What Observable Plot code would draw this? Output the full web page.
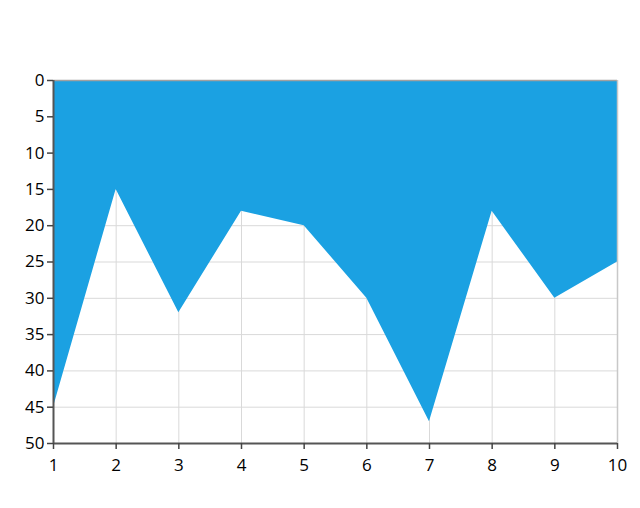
<!DOCTYPE html>
<html><head><meta charset="utf-8">
<script src="https://cdn.jsdelivr.net/npm/d3@7"></script>
<script src="https://cdn.jsdelivr.net/npm/@observablehq/plot@0.6"></script>
<style>body{margin:0;background:#fff;} svg{display:block;} #chart svg text{font-size:17px !important;font-family:'Open Sans','Noto Sans',sans-serif;}</style>
</head><body><div id="chart"></div>
<script>
const xValues = [1, 2, 3, 4, 5, 6, 7, 8, 9, 10];
const yValues = [45, 15, 32, 18, 20, 30, 47, 18, 30, 25];
const yTicks = [0, 5, 10, 15, 20, 25, 30, 35, 40, 45, 50];
const data = xValues.map((x, i) => ({x, y: yValues[i]}));

const chart = Plot.plot({
  width: 640, height: 508,
  marginLeft: 53, marginRight: 23, marginTop: 80, marginBottom: 65,
  style: {fontFamily: "'Open Sans', 'Noto Sans', sans-serif", fontSize: "17px", color: "#000", background: "#fff"},
  x: {domain: [1, 10], ticks: xValues, label: null},
  y: {domain: [0, 50], reverse: true, ticks: yTicks, label: null},
  marks: [
    Plot.gridX(xValues, {stroke: "#d9d9d9", strokeOpacity: 1}),
    Plot.gridY(yTicks, {stroke: "#d9d9d9", strokeOpacity: 1}),
    Plot.areaY(data, {x: "x", y1: 0, y2: "y", fill: "#1ba1e2"}),
    Plot.ruleY([0], {stroke: "#a0a0a0", strokeWidth: 1.5}),
    Plot.ruleX([10], {stroke: "#c8c8c8", strokeWidth: 1.5}),
    Plot.ruleX([1], {stroke: "#555", strokeWidth: 2}),
    Plot.ruleY([50], {stroke: "#555", strokeWidth: 2}),
    Plot.axisY({ticks: yTicks, tickSize: 6, tickPadding: 3, stroke: "#444", strokeWidth: 1.5, fill: "#000", fontSize: 17}),
    Plot.axisX({ticks: xValues, tickSize: 6, tickPadding: 9, stroke: "#444", strokeWidth: 1.5, fill: "#000", fontSize: 17})
  ]
});
document.getElementById("chart").appendChild(chart);
</script>
</body></html>
